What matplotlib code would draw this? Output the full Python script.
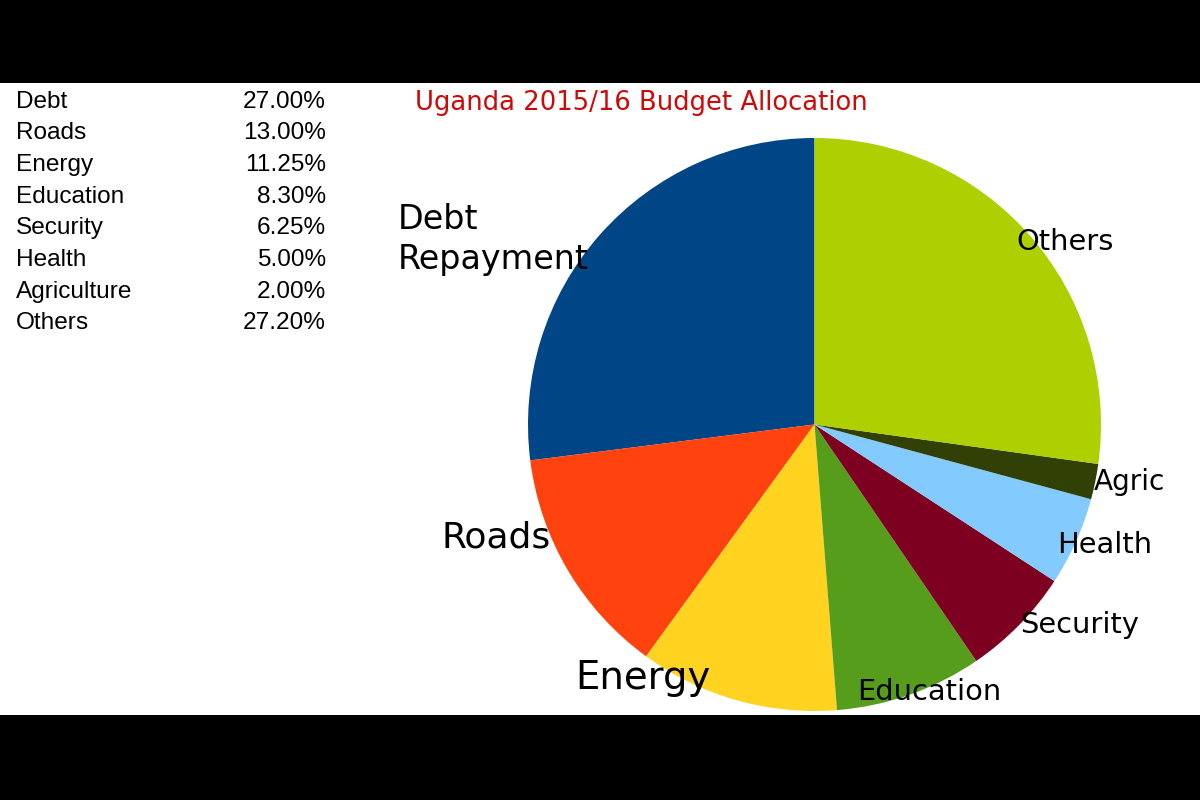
import matplotlib
matplotlib.use('Agg')
import matplotlib.pyplot as plt

# budget shares (percent)
categories = ['Debt', 'Roads', 'Energy', 'Education', 'Security', 'Health', 'Agriculture', 'Others']
shares = [27.00, 13.00, 11.25, 8.30, 6.25, 5.00, 2.00, 27.20]
pie_labels = ['Debt\nRepayment', 'Roads', 'Energy', 'Education', 'Security', 'Health', 'Agric', 'Others']
colors = ['#004586', '#ff420e', '#ffd320', '#579d1c', '#7e0021', '#83caff', '#314004', '#aecf00']

# label placement (data units, pie radius = 1) and sizes
label_pos = [(-1.456, 0.645), (-1.111, -0.396), (-0.599, -0.884), (0.401, -0.932),
             (0.927, -0.699), (1.014, -0.420), (1.101, -0.201), (0.875, 0.636)]
label_ha = ['left', 'center', 'center', 'center', 'center', 'center', 'center', 'center']
label_size = [24, 26, 27.8, 20.8, 20.8, 20.8, 20.2, 20.8]

W, H = 1200, 800
cx, cy, rad = 814.5, 424.5, 286.5   # pie centre / radius in pixels

fig = plt.figure(figsize=(12, 8), dpi=100)
fig.patch.set_facecolor('black')

# white band between the black bars
bg = fig.add_axes([0, (H - 715) / H, 1, (715 - 83) / H])
bg.set_facecolor('white')
bg.set_xticks([])
bg.set_yticks([])
for s in bg.spines.values():
    s.set_visible(False)

ax = fig.add_axes([0, 0, 1, 1])
ax.patch.set_alpha(0)
ax.pie(shares, colors=colors, startangle=90, counterclock=True, radius=1,
       wedgeprops=dict(linewidth=0))
ax.set_xlim(-cx / rad, (W - cx) / rad)
ax.set_ylim((cy - H) / rad, cy / rad)
ax.set_aspect('auto')
ax.axis('off')

for lab, (x, y), ha, fs in zip(pie_labels, label_pos, label_ha, label_size):
    ax.text(x, y, lab, ha=ha, va='center', fontsize=fs, color='black',
            family='DejaVu Sans', linespacing=1.25)

# title
fig.text(641 / W, 1 - 103 / H, 'Uganda 2015/16 Budget Allocation', color='#cc0a0a',
         fontsize=18.6, ha='center', va='center', family='DejaVu Sans')

# table on the left
for i, (c, v) in enumerate(zip(categories, shares)):
    y = 1 - (101.5 + i * 31.7) / H
    fig.text(16 / W, y, c, fontsize=17.6, ha='left', va='center', family='Liberation Sans')
    fig.text(326 / W, y, f'{v:.2f}%', fontsize=17.6, ha='right', va='center', family='Liberation Sans')

fig.savefig('out.png', dpi=100, facecolor=fig.get_facecolor())
